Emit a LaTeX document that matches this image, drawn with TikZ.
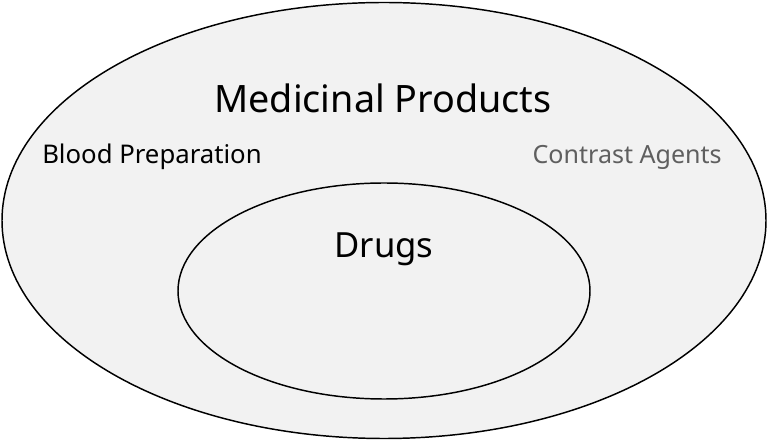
\documentclass[tikz,border=0pt]{standalone}
\usepackage{fontspec}
\setmainfont{Noto Sans}
\usetikzlibrary{positioning,shapes.geometric}
\definecolor{setfill}{HTML}{F2F2F2}
\definecolor{greytext}{HTML}{5F5F5F}

\begin{document}
\begin{tikzpicture}[x=0.75pt, y=-0.75pt,
  setnode/.style={draw, ellipse, fill=setfill, line width=1.1pt, inner sep=0pt},
  label/.style={inner sep=0pt, anchor=base}]
\useasboundingbox (0,0) rectangle (768,441);
% the two sets
\node[setnode, minimum width=573pt, minimum height=327pt] (outer) at (384,220.5) {};
\node[setnode, minimum width=309pt, minimum height=162pt] (inner) at (384,291) {};
% labels
\node[label, font=\fontsize{28.3}{32}\selectfont] (medprod) at (383,113) {Medicinal Products};
\node[label, anchor=base west, font=\fontsize{19.3}{22}\selectfont] (blood) at (42,164) {Blood Preparation};
\node[label, anchor=base east, text=greytext, font=\fontsize{18.8}{22}\selectfont] (contrast) at (722,164) {Contrast Agents};
\node[label, font=\fontsize{26}{30}\selectfont] (drugs) at (384,258) {Drugs};
\end{tikzpicture}
\end{document}
